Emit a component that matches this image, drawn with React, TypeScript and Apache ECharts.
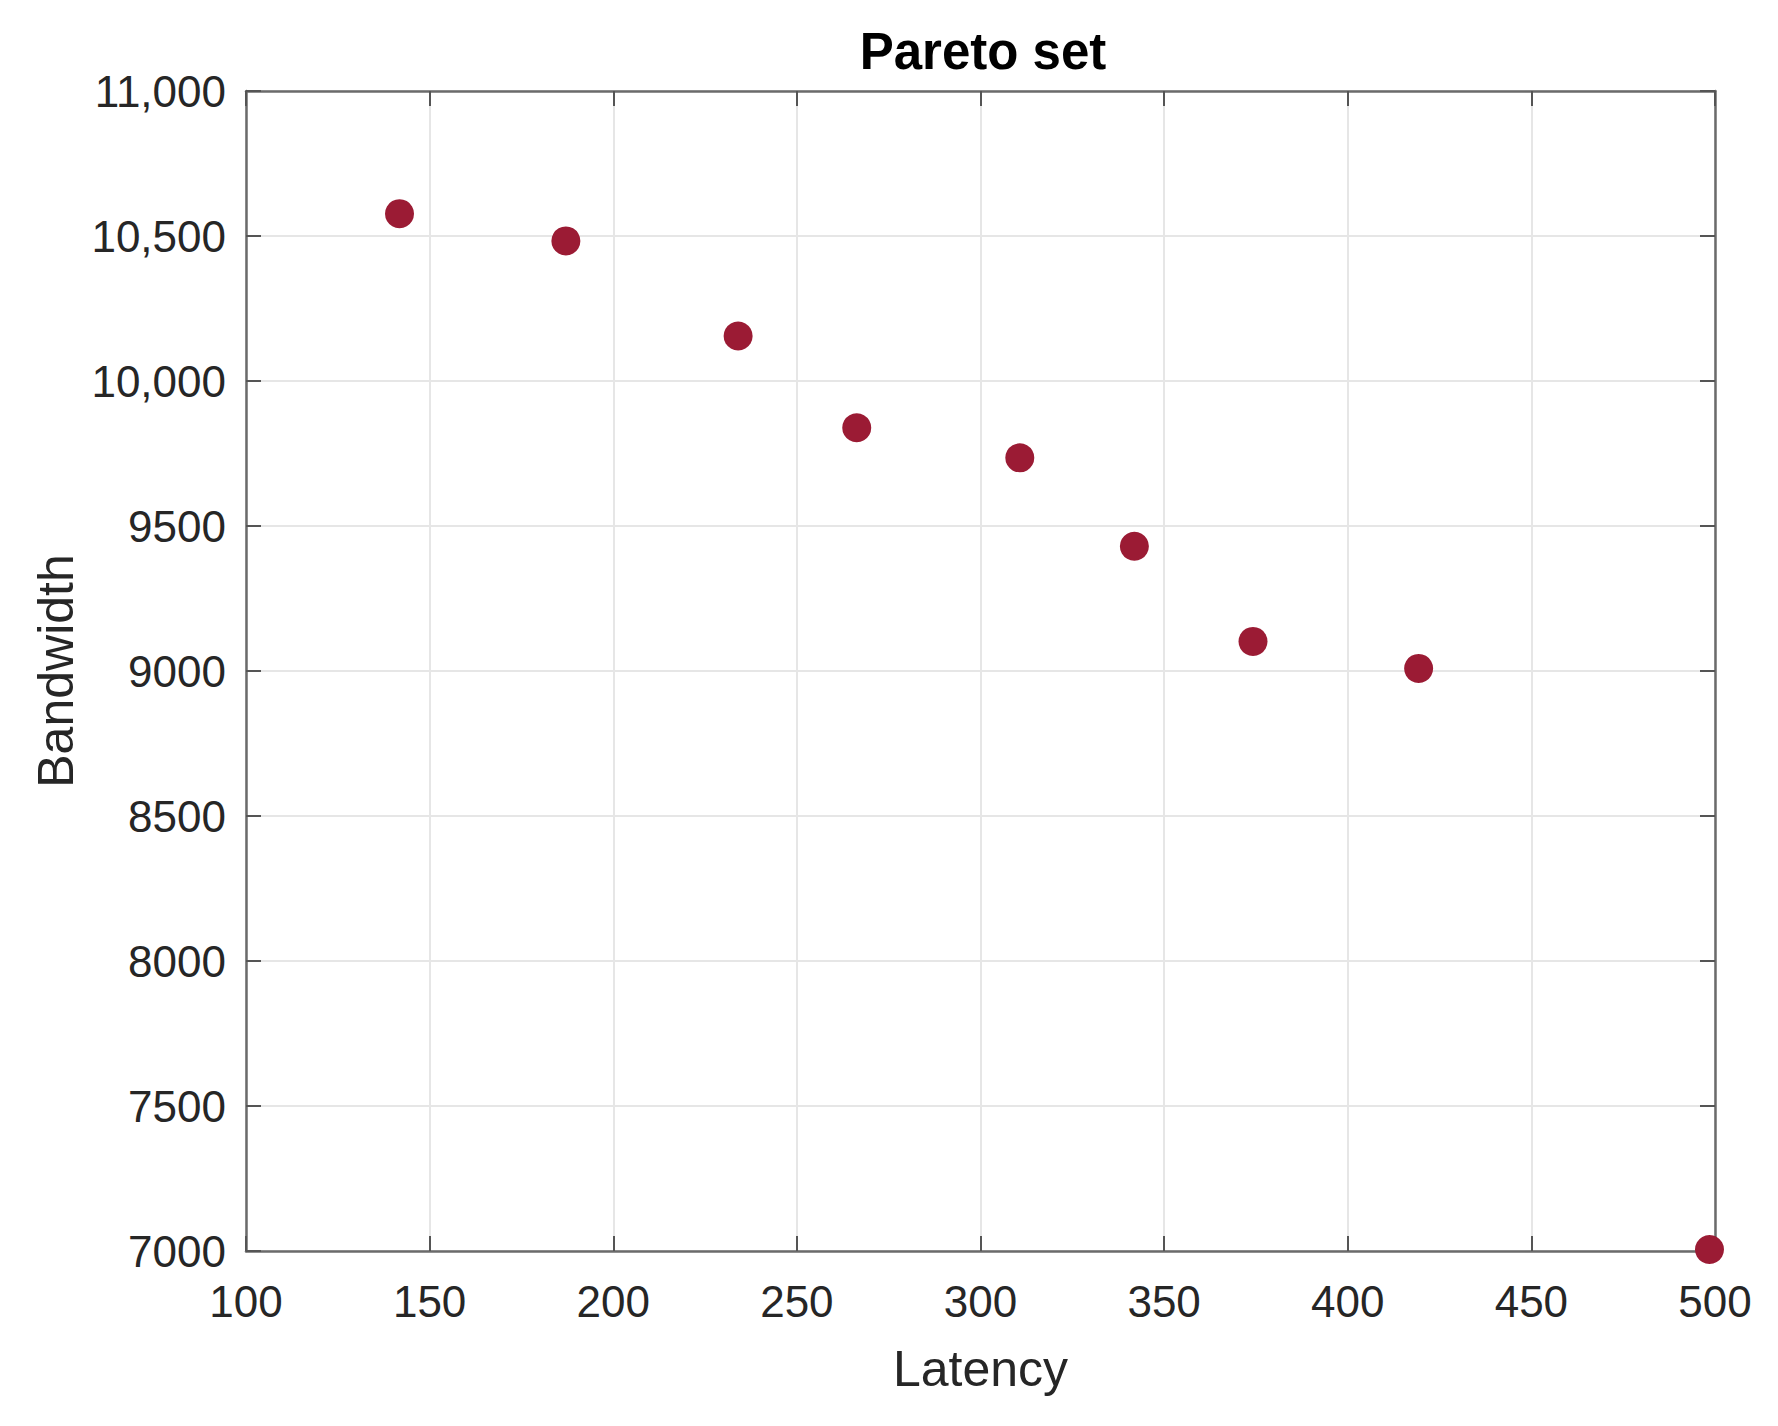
import React, { useEffect, useRef } from "react";
import * as echarts from "echarts";

const LATENCY = [141.8, 187.1, 234.0, 266.3, 310.7, 341.9, 374.2, 419.3, 498.5];
const BANDWIDTH = [10577, 10483, 10155, 9839, 9735, 9430, 9102, 9009, 7005];

const X_TICKS = [100, 150, 200, 250, 300, 350, 400, 450, 500];
const X_TICK_LABELS = ["100", "150", "200", "250", "300", "350", "400", "450", "500"];
const Y_TICKS = [7000, 7500, 8000, 8500, 9000, 9500, 10000, 10500, 11000];
const Y_TICK_LABELS = ["7000", "7500", "8000", "8500", "9000", "9500", "10,000", "10,500", "11,000"];

const TITLE = "Pareto set";
const X_NAME = "Latency";
const Y_NAME = "Bandwidth";

const FONT = "'Liberation Sans', Arial, Helvetica, sans-serif";

function lookup(ticks: number[], labels: string[], v: number): string {
  const i = ticks.findIndex((t) => Math.abs(t - v) < 1e-6);
  return i >= 0 ? labels[i] : String(v);
}

export default function App() {
  const ref = useRef<HTMLDivElement>(null);

  useEffect(() => {
    if (!ref.current) return;
    const chart = echarts.init(ref.current, undefined, { renderer: "svg" });
    const axisLine = { show: true, lineStyle: { color: "#6b6b6b", width: 2.5 } };
    const tickStyle = { show: true, inside: true, length: 15, lineStyle: { color: "#555", width: 2 } };
    const splitLine = { show: true, lineStyle: { color: "#e6e6e6", width: 2 } };
    const labelStyle = { color: "#262626", fontSize: 44, fontFamily: FONT };

    chart.setOption({
      animation: false,
      backgroundColor: "#ffffff",
      title: {
        text: TITLE,
        left: 978,
        textAlign: "center",
        top: 21,
        textStyle: { fontSize: 51, fontWeight: "bold", color: "#000", fontFamily: FONT },
      },
      grid: { left: 246, right: 63, top: 91, bottom: 175, containLabel: false },
      xAxis: [
        {
          type: "value",
          min: 100,
          max: 500,
          interval: 50,
          position: "bottom",
          name: X_NAME,
          nameLocation: "middle",
          nameGap: 93,
          nameTextStyle: { fontSize: 50, color: "#262626", fontFamily: FONT },
          axisLine,
          axisTick: tickStyle,
          splitLine,
          axisLabel: {
            ...labelStyle,
            margin: 28,
            formatter: (v: number) => lookup(X_TICKS, X_TICK_LABELS, v),
          },
        },
        {
          type: "value",
          min: 100,
          max: 500,
          interval: 50,
          position: "top",
          axisLine,
          axisTick: tickStyle,
          splitLine: { show: false },
          axisLabel: { show: false },
        },
      ],
      yAxis: [
        {
          type: "value",
          min: 7000,
          max: 11000,
          interval: 500,
          position: "left",
          name: Y_NAME,
          nameLocation: "middle",
          nameGap: 162,
          nameTextStyle: { fontSize: 50, color: "#262626", fontFamily: FONT },
          axisLine,
          axisTick: tickStyle,
          splitLine,
          axisLabel: {
            ...labelStyle,
            margin: 20,
            formatter: (v: number) => lookup(Y_TICKS, Y_TICK_LABELS, v),
          },
        },
        {
          type: "value",
          min: 7000,
          max: 11000,
          interval: 500,
          position: "right",
          axisLine,
          axisTick: tickStyle,
          splitLine: { show: false },
          axisLabel: { show: false },
        },
      ],
      series: [
        {
          type: "scatter",
          xAxisIndex: 0,
          yAxisIndex: 0,
          symbol: "circle",
          symbolSize: 29,
          clip: false,
          itemStyle: { color: "#9b1b34", opacity: 1 },
          data: LATENCY.map((x, i) => [x, BANDWIDTH[i]]),
        },
      ],
    });

    return () => chart.dispose();
  }, []);

  return (
    <div
      ref={ref}
      style={{ position: "fixed", left: 0, top: 0, width: 1778, height: 1426, background: "#fff" }}
    />
  );
}
